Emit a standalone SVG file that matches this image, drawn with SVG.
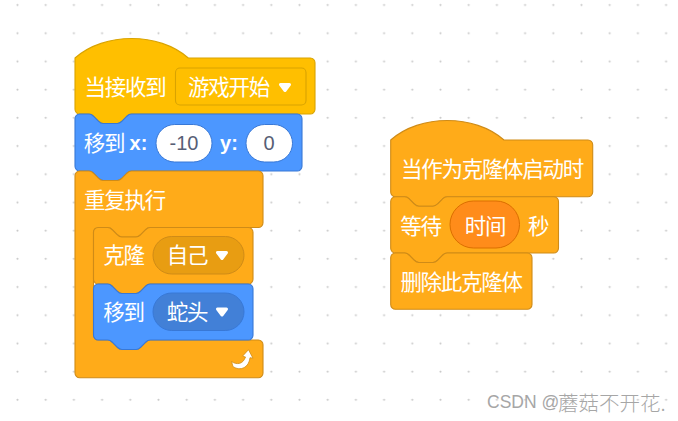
<svg xmlns="http://www.w3.org/2000/svg" width="678" height="421" viewBox="0 0 678 421">
<style>
.b{stroke-width:1.1;stroke-linejoin:round}
.y{fill:#FFBF00;stroke:#D9A300}
.o{fill:#FFAB19;stroke:#CF8B17}
.u{fill:#4C97FF;stroke:#3878D6}
.t{font-family:"Noto Sans CJK SC","Noto Sans",sans-serif;font-size:21.5px;letter-spacing:-1.3px;fill:#fff;text-anchor:middle;dominant-baseline:central}
.l{font-family:"Liberation Sans",sans-serif;font-size:20px;letter-spacing:0;fill:#fff;text-anchor:middle;dominant-baseline:central}
.d{fill:#575E75}
.tri{fill:#fff;stroke:#fff;stroke-width:3;stroke-linejoin:round}
</style>
<defs>
<pattern id="grid" x="3.4" y="4.3" width="28.2" height="28.2" patternUnits="userSpaceOnUse"><circle cx="14.1" cy="0.700" r="1" fill="#c8c8c8"/><circle cx="14.1" cy="28.9" r="1" fill="#c8c8c8"/></pattern>
</defs>
<rect width="678" height="421" fill="#fff"/>
<rect width="678" height="421" fill="url(#grid)"/>
<g id="watermark"><text y="402" fill="#a6a6a6" dominant-baseline="central"><tspan x="487" font-family="'Liberation Sans',sans-serif" font-size="17.500">CSDN @</tspan><tspan x="558" font-family="'Noto Sans CJK SC',sans-serif" font-size="20.500" font-weight="300">蘑菇不开花.</tspan></text></g>
<g id="connectors"></g>
<g id="when-receive">
<path class="b y" d="M75,58 c29.5,-26 83.8,-26 113.3,0 H310.3 a4.7,4.7 0 0 1 4.7,4.7 V109.3 a4.7,4.7 0 0 1 -4.7,4.7 H131.5 c-2.4,0 -3.5,1.2 -4.7,2.4 l-4.7,4.7 c-1.2,1.2 -2.4,2.4 -4.7,2.4 h-14.2 c-2.4,0 -3.5,-1.2 -4.7,-2.4 l-4.7,-4.7 c-1.2,-1.2 -2.3,-2.4 -4.7,-2.4 H79.7 a4.7,4.7 0 0 1 -4.7,-4.7 Z"/>
<text class="t" x="125" y="85.500">当接收到</text>
<rect x="175.500" y="68" width="130.500" height="37" rx="4.500" fill="#FFBF00" stroke="#D9A300" stroke-width="1.100"/>
<text class="t" x="228.500" y="85.500">游戏开始</text>
<path class="tri" d="M280.500,84.500 h9 l-4.500,6 Z"/>
</g>
<g id="move-xy">
<path class="b u" d="M75,118.700 a4.7,4.7 0 0 1 4.700,-4.700 H89 c2.400,0 3.500,1.200 4.700,2.400 l4.700,4.700 c1.200,1.200 2.400,2.400 4.700,2.400 h14.200 c2.400,0 3.500,-1.200 4.700,-2.400 l4.700,-4.700 c1.200,-1.200 2.300,-2.400 4.700,-2.400 H297.300 a4.7,4.700 0 0 1 4.700,4.700 V166.300 a4.7,4.700 0 0 1 -4.700,4.700 H131.500 c-2.400,0 -3.500,1.200 -4.700,2.400 l-4.700,4.700 c-1.200,1.200 -2.400,2.400 -4.700,2.400 h-14.200 c-2.400,0 -3.500,-1.200 -4.700,-2.400 l-4.700,-4.700 c-1.200,-1.200 -2.300,-2.400 -4.700,-2.400 H79.700 a4.7,4.700 0 0 1 -4.700,-4.700 Z"/>
<text class="t" x="104" y="141.500">移到</text>
<text class="l" x="138.500" y="143" font-weight="700">x:</text>
<rect x="156" y="124.500" width="56" height="37.500" rx="18.700" fill="#fff" stroke="#3878D6" stroke-width="1"/>
<text class="l d" x="184" y="143">-10</text>
<text class="l" x="229" y="143" font-weight="700">y:</text>
<rect x="246" y="124.500" width="46.500" height="37.500" rx="18.700" fill="#fff" stroke="#3878D6" stroke-width="1"/>
<text class="l d" x="269" y="143">0</text>
</g>
<g id="repeat">
<path class="b o" d="M75,175.700 a4.7,4.700 0 0 1 4.700,-4.700 H89 c2.400,0 3.500,1.200 4.700,2.400 l4.700,4.700 c1.200,1.200 2.400,2.400 4.700,2.400 h14.200 c2.400,0 3.500,-1.200 4.700,-2.400 l4.700,-4.700 c1.200,-1.200 2.300,-2.400 4.700,-2.400 H258.300 a4.7,4.700 0 0 1 4.700,4.700 V222.800 a4.7,4.700 0 0 1 -4.700,4.700 H150.200 c-2.400,0 -3.500,1.200 -4.700,2.400 l-4.700,4.700 c-1.200,1.200 -2.400,2.400 -4.700,2.400 h-14.200 c-2.400,0 -3.500,-1.200 -4.700,-2.400 l-4.700,-4.700 c-1.200,-1.200 -2.300,-2.400 -4.700,-2.400 H98.200 a4.7,4.700 0 0 0 -4.700,4.700 V335.300 a4.7,4.700 0 0 0 4.700,4.700 H107.700 c2.400,0 3.500,1.200 4.700,2.400 l4.700,4.700 c1.200,1.200 2.400,2.400 4.700,2.400 h14.200 c2.400,0 3.500,-1.200 4.700,-2.400 l4.700,-4.700 c1.200,-1.200 2.300,-2.400 4.700,-2.400 H258.300 a4.7,4.700 0 0 1 4.700,4.700 V373 a4.7,4.700 0 0 1 -4.700,4.700 H79.700 a4.7,4.700 0 0 1 -4.700,-4.700 Z"/>
<text class="t" x="124.500" y="198.500">重复执行</text>
<path d="M231.500,361.500 c5,3.500 11.500,3 14,-4.500 l-3,-0.800 l6,-6.500 l4.500,8.500 l-3,-0.500 c-1,9.500 -9,14 -17,9 Z" fill="#fff" stroke="#CF8B17" stroke-width="0.800" stroke-linejoin="round"/>
</g>
<g id="clone">
<path class="b o" d="M93.500,232.200 a4.7,4.700 0 0 1 4.700,-4.700 H107.700 c2.400,0 3.500,1.200 4.700,2.400 l4.700,4.700 c1.200,1.200 2.400,2.400 4.700,2.400 h14.200 c2.400,0 3.500,-1.200 4.700,-2.400 l4.700,-4.700 c1.200,-1.200 2.300,-2.400 4.700,-2.400 H248.300 a4.7,4.700 0 0 1 4.700,4.700 V279.300 a4.7,4.700 0 0 1 -4.700,4.700 H150.200 c-2.400,0 -3.500,1.200 -4.700,2.400 l-4.700,4.700 c-1.200,1.200 -2.400,2.400 -4.700,2.400 h-14.200 c-2.400,0 -3.500,-1.200 -4.700,-2.400 l-4.700,-4.700 c-1.200,-1.200 -2.300,-2.400 -4.700,-2.400 H98.200 a4.7,4.700 0 0 1 -4.700,-4.700 Z"/>
<text class="t" x="123.500" y="253.500">克隆</text>
<rect x="153" y="236.500" width="91" height="37.500" rx="18.700" fill="#E89D12" stroke="#CF8B17" stroke-width="1"/>
<text class="t" x="187" y="253.500">自己</text>
<path class="tri" d="M217.500,252.500 h9 l-4.500,6 Z"/>
</g>
<g id="move-to">
<path class="b u" d="M93.500,288.700 a4.7,4.700 0 0 1 4.700,-4.700 H107.700 c2.400,0 3.500,1.200 4.700,2.400 l4.700,4.700 c1.200,1.200 2.400,2.400 4.700,2.400 h14.200 c2.400,0 3.500,-1.200 4.700,-2.400 l4.700,-4.700 c1.200,-1.200 2.300,-2.400 4.700,-2.400 H248.300 a4.7,4.700 0 0 1 4.700,4.700 V335.300 a4.7,4.700 0 0 1 -4.700,4.700 H150.200 c-2.400,0 -3.500,1.200 -4.700,2.400 l-4.700,4.700 c-1.200,1.200 -2.400,2.400 -4.700,2.400 h-14.200 c-2.400,0 -3.500,-1.200 -4.700,-2.400 l-4.700,-4.700 c-1.200,-1.200 -2.300,-2.400 -4.700,-2.400 H98.200 a4.7,4.700 0 0 1 -4.700,-4.700 Z"/>
<text class="t" x="123.500" y="310.500">移到</text>
<rect x="153" y="293" width="91" height="37.500" rx="18.700" fill="#4280D7" stroke="#3878D6" stroke-width="1"/>
<text class="t" x="187" y="310.500">蛇头</text>
<path class="tri" d="M217.500,309 h9 l-4.500,6 Z"/>
</g>
<g id="when-clone">
<path class="b o" d="M390.700,140 c29.500,-26 83.800,-26 113.300,0 H588 a4.7,4.700 0 0 1 4.700,4.700 V192 a4.7,4.700 0 0 1 -4.700,4.700 H447.200 c-2.400,0 -3.500,1.200 -4.700,2.400 l-4.700,4.700 c-1.200,1.200 -2.400,2.400 -4.700,2.400 h-14.200 c-2.400,0 -3.500,-1.200 -4.700,-2.400 l-4.700,-4.700 c-1.200,-1.200 -2.300,-2.400 -4.700,-2.400 H395.400 a4.7,4.700 0 0 1 -4.700,-4.700 Z"/>
<text class="t" x="492" y="167.500">当作为克隆体启动时</text>
</g>
<g id="wait">
<path class="b o" d="M390.700,201.400 a4.7,4.700 0 0 1 4.700,-4.700 H404.700 c2.400,0 3.500,1.200 4.700,2.400 l4.700,4.700 c1.200,1.200 2.400,2.400 4.700,2.400 h14.200 c2.400,0 3.500,-1.200 4.700,-2.400 l4.700,-4.700 c1.200,-1.200 2.300,-2.400 4.700,-2.400 H553.800 a4.7,4.700 0 0 1 4.700,4.700 V248.300 a4.7,4.700 0 0 1 -4.700,4.700 H447.200 c-2.400,0 -3.500,1.200 -4.700,2.400 l-4.700,4.700 c-1.200,1.200 -2.400,2.400 -4.700,2.400 h-14.200 c-2.400,0 -3.500,-1.200 -4.700,-2.400 l-4.700,-4.700 c-1.200,-1.200 -2.300,-2.400 -4.700,-2.400 H395.400 a4.7,4.700 0 0 1 -4.700,-4.700 Z"/>
<text class="t" x="420.500" y="224.500">等待</text>
<rect x="450" y="201" width="69.500" height="47" rx="23.500" fill="#FF8C1A" stroke="#DB6E00" stroke-width="1"/>
<text class="t" x="485" y="224.500">时间</text>
<text class="t" x="538" y="224.500">秒</text>
</g>
<g id="delete">
<path class="b o" d="M390.700,257.700 a4.7,4.700 0 0 1 4.700,-4.700 H404.700 c2.400,0 3.500,1.200 4.700,2.400 l4.700,4.700 c1.200,1.200 2.400,2.400 4.700,2.400 h14.200 c2.400,0 3.500,-1.200 4.700,-2.400 l4.700,-4.700 c1.200,-1.200 2.300,-2.400 4.700,-2.400 H527.300 a4.7,4.700 0 0 1 4.700,4.700 V304.600 a4.7,4.700 0 0 1 -4.700,4.700 H395.400 a4.7,4.700 0 0 1 -4.700,-4.700 Z"/>
<text class="t" x="461" y="280.500">删除此克隆体</text>
</g>
</svg>
